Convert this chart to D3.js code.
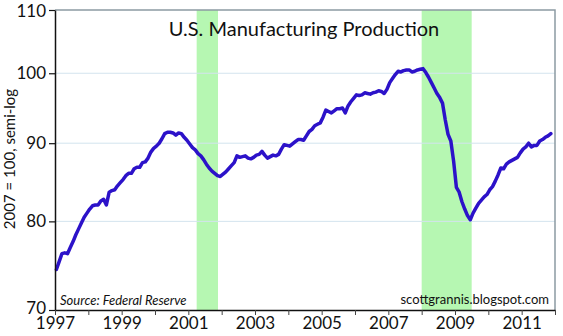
<!DOCTYPE html>
<html>
<head>
<meta charset="utf-8">
<script src="https://cdn.jsdelivr.net/npm/d3@7"></script>
<style>
    body { margin: 0; background: #fff; }
    text { font-family: Lato, "Open Sans", sans-serif; fill: #111; }
</style>
</head>
<body>
<script>
// monthly index, 2007 = 100, Jan 1997 .. Nov 2011
let startYear = 1997;
let production = [
    74.4, 75.3, 76.2, 76.3, 76.2, 76.9, 77.6, 78.4, 79.1, 79.8, 80.5, 81.0,
    81.5, 81.9, 82.0, 82.0, 82.5, 82.7, 82.0, 83.6, 83.8, 83.9, 84.4, 84.8,
    85.2, 85.7, 86.0, 86.0, 86.6, 86.8, 86.8, 87.4, 87.5, 88.0, 88.8, 89.3,
    89.6, 90.0, 90.6, 91.3, 91.5, 91.5, 91.4, 91.1, 91.4, 91.3, 90.8, 90.4,
    89.9, 89.4, 89.1, 88.6, 88.3, 87.8, 87.2, 86.7, 86.3, 86.0, 85.7, 85.6,
    85.9, 86.2, 86.6, 87.0, 87.4, 88.3, 88.1, 88.2, 88.3, 88.0, 87.9, 88.1,
    88.4, 88.5, 88.9, 88.4, 88.0, 88.2, 88.4, 88.3, 88.5, 89.2, 89.8, 89.7,
    89.6, 89.9, 90.2, 90.5, 90.5, 90.4, 91.0, 91.6, 91.9, 92.4, 92.6, 92.8,
    93.6, 94.6, 94.4, 94.2, 94.5, 94.8, 94.8, 94.9, 94.2, 95.2, 95.8, 96.3,
    96.8, 96.7, 96.8, 97.1, 97.0, 96.9, 97.1, 97.2, 97.4, 97.3, 97.0, 97.6,
    98.6, 99.2, 99.8, 100.3, 100.2, 100.4, 100.5, 100.5, 100.2, 100.3, 100.5, 100.6,
    100.7, 100.1, 99.4, 98.6, 97.8, 97.0, 96.4, 95.6, 93.2, 91.2, 90.3, 87.6,
    84.2, 83.6, 82.4, 81.5, 80.7, 80.2, 81.0, 81.6, 82.2, 82.6, 83.0, 83.3,
    83.9, 84.3, 85.0, 85.8, 86.7, 86.6, 87.2, 87.5, 87.7, 87.9, 88.1, 88.7,
    89.2, 89.5, 90.0, 89.5, 89.7, 89.7, 90.3, 90.5, 90.8, 91.0, 91.3
];
// recessions (decimal years)
let recessions = [[2001.25, 2001.89], [2008.0, 2009.5]];
let yTicks = [70, 80, 90, 100, 110];
let yGrid = [80, 90, 100];
let xLabels = [1997, 1999, 2001, 2003, 2005, 2007, 2009, 2011];
let xMinor = d3.range(1997, 2013);

let width = 563,
    height = 336,
    margin = {top: 10, right: 8, bottom: 26, left: 55};

let x = d3.scaleLinear()
    .domain([1997, 2012])
    .range([margin.left, width - margin.right]);

let y = d3.scaleLog()
    .domain([70, 110])
    .range([height - margin.bottom, margin.top]);

let svg = d3.select("body").append("svg")
    .attr("width", width)
    .attr("height", height);

svg.selectAll(".recession")
    .data(recessions)
    .enter().append("rect")
    .attr("x", function(d) { return x(d[0]); })
    .attr("y", y(110))
    .attr("width", function(d) { return x(d[1]) - x(d[0]); })
    .attr("height", y(70) - y(110))
    .attr("fill", "#b6f7b2");

svg.selectAll(".grid")
    .data(yGrid)
    .enter().append("line")
    .attr("x1", x(1997)).attr("x2", x(2012))
    .attr("y1", y).attr("y2", y)
    .attr("stroke", "#d3e4ee")
    .attr("stroke-width", 1);

// frame top / right
svg.append("path")
    .attr("d", "M" + x(1997) + "," + y(110) + "H" + x(2012) + "V" + y(70))
    .attr("fill", "none")
    .attr("stroke", "#8c9aa2")
    .attr("stroke-width", 1.5);

let line = d3.line()
    .x(function(d, i) { return x(startYear + (i + 0.5) / 12); })
    .y(function(d) { return y(d); });

svg.append("path")
    .datum(production)
    .attr("d", line)
    .attr("fill", "none")
    .attr("stroke", "#2c12c9")
    .attr("stroke-width", 3.5)
    .attr("stroke-linejoin", "round")
    .attr("stroke-linecap", "round");

// left axis
let yAxis = svg.append("g")
    .attr("transform", "translate(" + x(1997) + ",0)")
    .call(d3.axisLeft(y).tickValues(yTicks).tickFormat(d3.format("d")).tickSizeInner(6).tickSizeOuter(0).tickPadding(3));
yAxis.select(".domain").attr("stroke", "#111").attr("stroke-width", 1.5);
yAxis.selectAll("line").attr("stroke", "#111").attr("stroke-width", 1.2);
yAxis.selectAll("text").attr("font-size", 17).attr("font-family", "Lato, sans-serif").attr("fill", "#111");
yAxis.selectAll(".tick").filter(function(d) { return d === 110; }).select("text").attr("dy", "0.4em");
yAxis.selectAll(".tick").filter(function(d) { return d === 70; }).select("text").attr("dy", "0.2em");

// bottom axis
let xAxis = svg.append("g")
    .attr("transform", "translate(0," + y(70) + ")")
    .call(d3.axisBottom(x).tickValues(xMinor).tickFormat(function(d) { return xLabels.indexOf(d) >= 0 ? d : ""; })
        .tickSizeInner(5).tickSizeOuter(0).tickPadding(2));
xAxis.select(".domain").attr("stroke", "#111").attr("stroke-width", 1.5);
xAxis.selectAll("line").attr("stroke", "#444").attr("stroke-width", 1);
xAxis.selectAll("text").attr("font-size", 17).attr("font-family", "Lato, sans-serif").attr("fill", "#111");

svg.append("text")
    .attr("x", 304)
    .attr("y", 36)
    .attr("text-anchor", "middle")
    .attr("font-size", 20)
    .text("U.S. Manufacturing Production");

svg.append("text")
    .attr("transform", "translate(15,159) rotate(-90)")
    .attr("text-anchor", "middle")
    .attr("font-size", 15)
    .text("2007 = 100, semi-log");

svg.append("text")
    .attr("x", 60)
    .attr("y", 305)
    .attr("font-size", 13)
    .attr("font-style", "italic")
    .text("Source: Federal Reserve");

svg.append("text")
    .attr("x", 549)
    .attr("y", 304)
    .attr("text-anchor", "end")
    .attr("font-size", 13)
    .text("scottgrannis.blogspot.com");
</script>
</body>
</html>
